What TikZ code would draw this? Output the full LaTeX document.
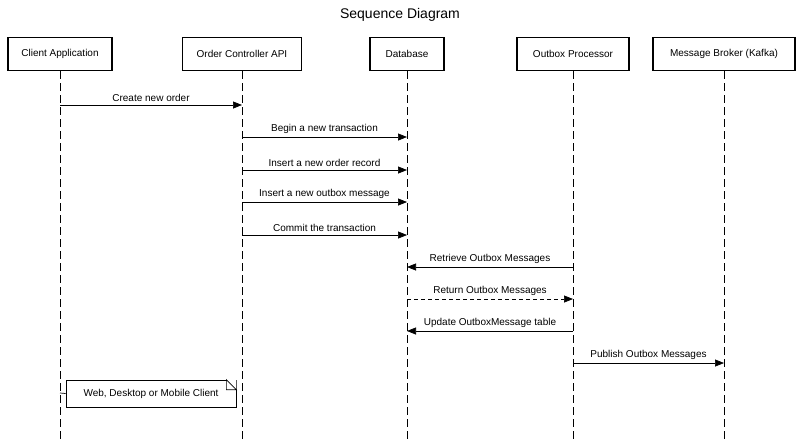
\documentclass[tikz,border=0pt]{standalone}
\usepackage{fontspec}
\setmainfont{Liberation Sans}
\usetikzlibrary{arrows.meta,shapes.misc}
\begin{document}
\begin{tikzpicture}[x=1pt,y=-1pt,
  actor/.style={draw,line width=1.4pt,minimum height=33pt,inner xsep=6pt,font=\fontsize{10}{12}\selectfont,anchor=north},
  life/.style={dash pattern=on 8pt off 4pt,line width=0.6pt},
  msg/.style={-{Triangle[length=9pt,width=7pt]},line width=0.7pt},
  ret/.style={msg,dash pattern=on 4pt off 3pt},
  lbl/.style={font=\fontsize{10}{12}\selectfont,above,inner sep=3pt}]
\useasboundingbox[fill=white] (0,0) rectangle (800,440);
\node[font=\fontsize{14}{16}\selectfont] (title) at (400,15) {Sequence Diagram};
\node[actor,minimum width=104pt] (c) at (60,37) {Client Application};
\node[actor,minimum width=119pt] (o) at (242,37) {Order Controller API};
\node[actor,minimum width=74pt] (d) at (407,37) {Database};
\node[actor,minimum width=112pt] (p) at (573,37) {Outbox Processor};
\node[actor,minimum width=142pt] (k) at (724,37) {Message Broker (Kafka)};
\foreach \n in {c,o,d,p,k}{
  \coordinate (\n e) at (\n.south |- 0,440);
  \draw[life] (\n.south) -- (\n e);
}
\foreach \a/\b/\y/\t/\s in {c/o/105/Create new order/msg, o/d/137/Begin a new transaction/msg, o/d/170/Insert a new order record/msg, o/d/202/Insert a new outbox message/msg, o/d/235/Commit the transaction/msg, p/d/267/Retrieve Outbox Messages/msg, d/p/299/Return Outbox Messages/ret, p/d/331/Update OutboxMessage table/msg, p/k/363/Publish Outbox Messages/msg}{
  \coordinate (s) at (\a.south |- 0,\y);
  \coordinate (t) at (\b.south |- 0,\y);
  \draw[\s] (s) -- node[lbl]{\t} (t);
}
\node[draw,line width=0.7pt,minimum width=170pt,minimum height=27pt,font=\fontsize{10}{12}\selectfont] (note) at (151,393.5) {Web, Desktop or Mobile Client};
\fill[white] ([xshift=-10pt]note.north east) -- (note.north east) -- ([yshift=-10pt]note.north east) -- cycle;
\draw[line width=0.7pt] ([xshift=-10pt]note.north east) -- ([yshift=-10pt]note.north east) -- ([xshift=-10pt,yshift=-10pt]note.north east) -- cycle;
\coordinate (nl) at (c.south |- 0,393);
\draw[line width=0.7pt] (nl) -- (note.west);
\end{tikzpicture}
\end{document}
